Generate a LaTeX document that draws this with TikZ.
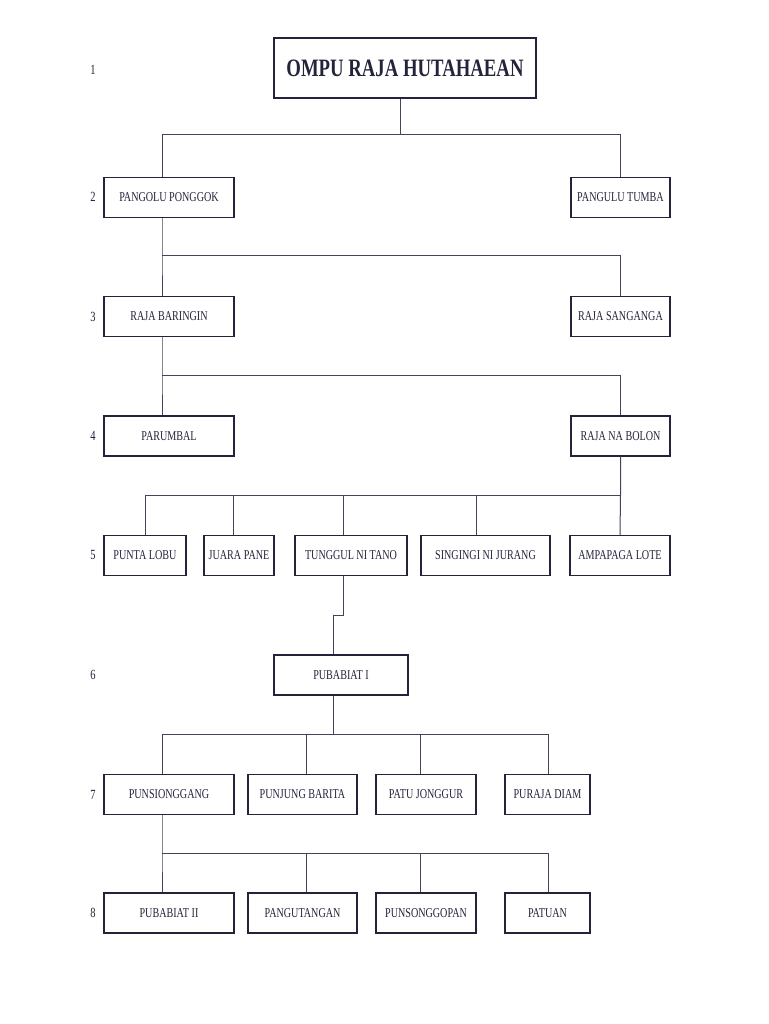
\documentclass[tikz,border=0pt]{standalone}
\usepackage{fontspec}
\setmainfont{Liberation Serif}[FakeStretch=0.75]
\begin{document}
\begin{tikzpicture}[x=1pt,y=-1pt,
  bx/.style={draw=ink,line width=1.4pt,minimum height=40pt,inner sep=0pt,font=\fontsize{13.5}{14}\selectfont,text=ink},
  ln/.style={draw=ink!85,line width=1pt},
  num/.style={font=\fontsize{14}{15}\selectfont,text=ink}]
\definecolor{ink}{HTML}{23233A}
\useasboundingbox (0,0) rectangle (768,1024);
\newcommand{\bx}[6]{\node[bx,minimum width={#4-#3}] (#1) at ({(#3+#4)/2},{#5}) {#2};}
\node[draw=ink,line width=1.8pt,minimum width=262,minimum height=60,text=ink,font=\bfseries\fontsize{25}{28}\selectfont] (top) at (405,68) {OMPU RAJA HUTAHAEAN};
\bx{pp}{PANGOLU PONGGOK}{104}{234}{197.5}{}
\bx{pt}{PANGULU TUMBA}{571}{670}{197.5}{}
\bx{rb}{RAJA BARINGIN}{104}{234}{316.5}{}
\bx{rs}{RAJA SANGANGA}{571}{670}{316.5}{}
\bx{pa}{PARUMBAL}{104}{234}{436}{}
\bx{rn}{RAJA NA BOLON}{571}{670}{436}{}
\bx{pl}{PUNTA LOBU}{104}{186}{555.5}{}
\bx{jp}{JUARA PANE}{204}{274}{555.5}{}
\bx{tt}{TUNGGUL NI TANO}{295}{407}{555.5}{}
\bx{sj}{SINGINGI NI JURANG}{421}{550}{555.5}{}
\bx{al}{AMPAPAGA LOTE}{570}{670}{555.5}{}
\bx{p1}{PUBABIAT I}{274}{408}{675}{}
\bx{ps}{PUNSIONGGANG}{104}{234}{794.5}{}
\bx{pb}{PUNJUNG BARITA}{248}{357}{794.5}{}
\bx{pj}{PATU JONGGUR}{376}{476}{794.5}{}
\bx{pd}{PURAJA DIAM}{505}{590}{794.5}{}
\bx{p2}{PUBABIAT II}{104}{234}{913}{}
\bx{pg}{PANGUTANGAN}{248}{357}{913}{}
\bx{po}{PUNSONGGOPAN}{376}{476}{913}{}
\bx{pn}{PATUAN}{505}{590}{913}{}
\foreach \n/\y [count=\i] in {1/70,2/197,3/317,4/436,5/555,6/675,7/795,8/913}
  \node[num] (n\i) at (93,\y) {\n};
% connectors
\draw[ln] (top.south -| 400,0) -- (400,135) coordinate (c1);
\draw[ln] (c1) -| (pp.north -| 162,0);
\draw[ln] (c1) -| (pt.north);
\draw[ln] (pp.south -| 162,0) -- (162,255) coordinate (c2) -- (rb.north -| 162,0);
\draw[ln] (c2) -| (rs.north);
\draw[ln] (rb.south -| 162,0) -- (162,375) coordinate (c3) -- (pa.north -| 162,0);
\draw[ln] (c3) -| (rn.north);
\draw[ln] (rn.south) -- (rn.south |- 0,495) coordinate (c4) -- (al.north);
\draw[ln] (c4) -| (pl.north);
\draw[ln] (c4) -| (jp.north -| 233,0);
\draw[ln] (c4) -| (tt.north -| 343,0);
\draw[ln] (c4) -| (sj.north -| 476,0);
\draw[ln] (tt.south -| 343,0) -- (343,615) coordinate (c5) -| (p1.north -| 333,0);
\draw[ln] (p1.south -| 333,0) -- (333,734) coordinate (c6);
\draw[ln] (c6) -| (ps.north -| 162,0);
\draw[ln] (c6) -| (pb.north -| 306,0);
\draw[ln] (c6) -| (pj.north -| 420,0);
\draw[ln] (c6) -| (pd.north -| 548,0);
\draw[ln] (ps.south -| 162,0) -- (162,853) coordinate (c7) -- (p2.north -| 162,0);
\draw[ln] (c7) -| (pg.north -| 306,0);
\draw[ln] (c7) -| (po.north -| 420,0);
\draw[ln] (c7) -| (pn.north -| 548,0);
\end{tikzpicture}
\end{document}
